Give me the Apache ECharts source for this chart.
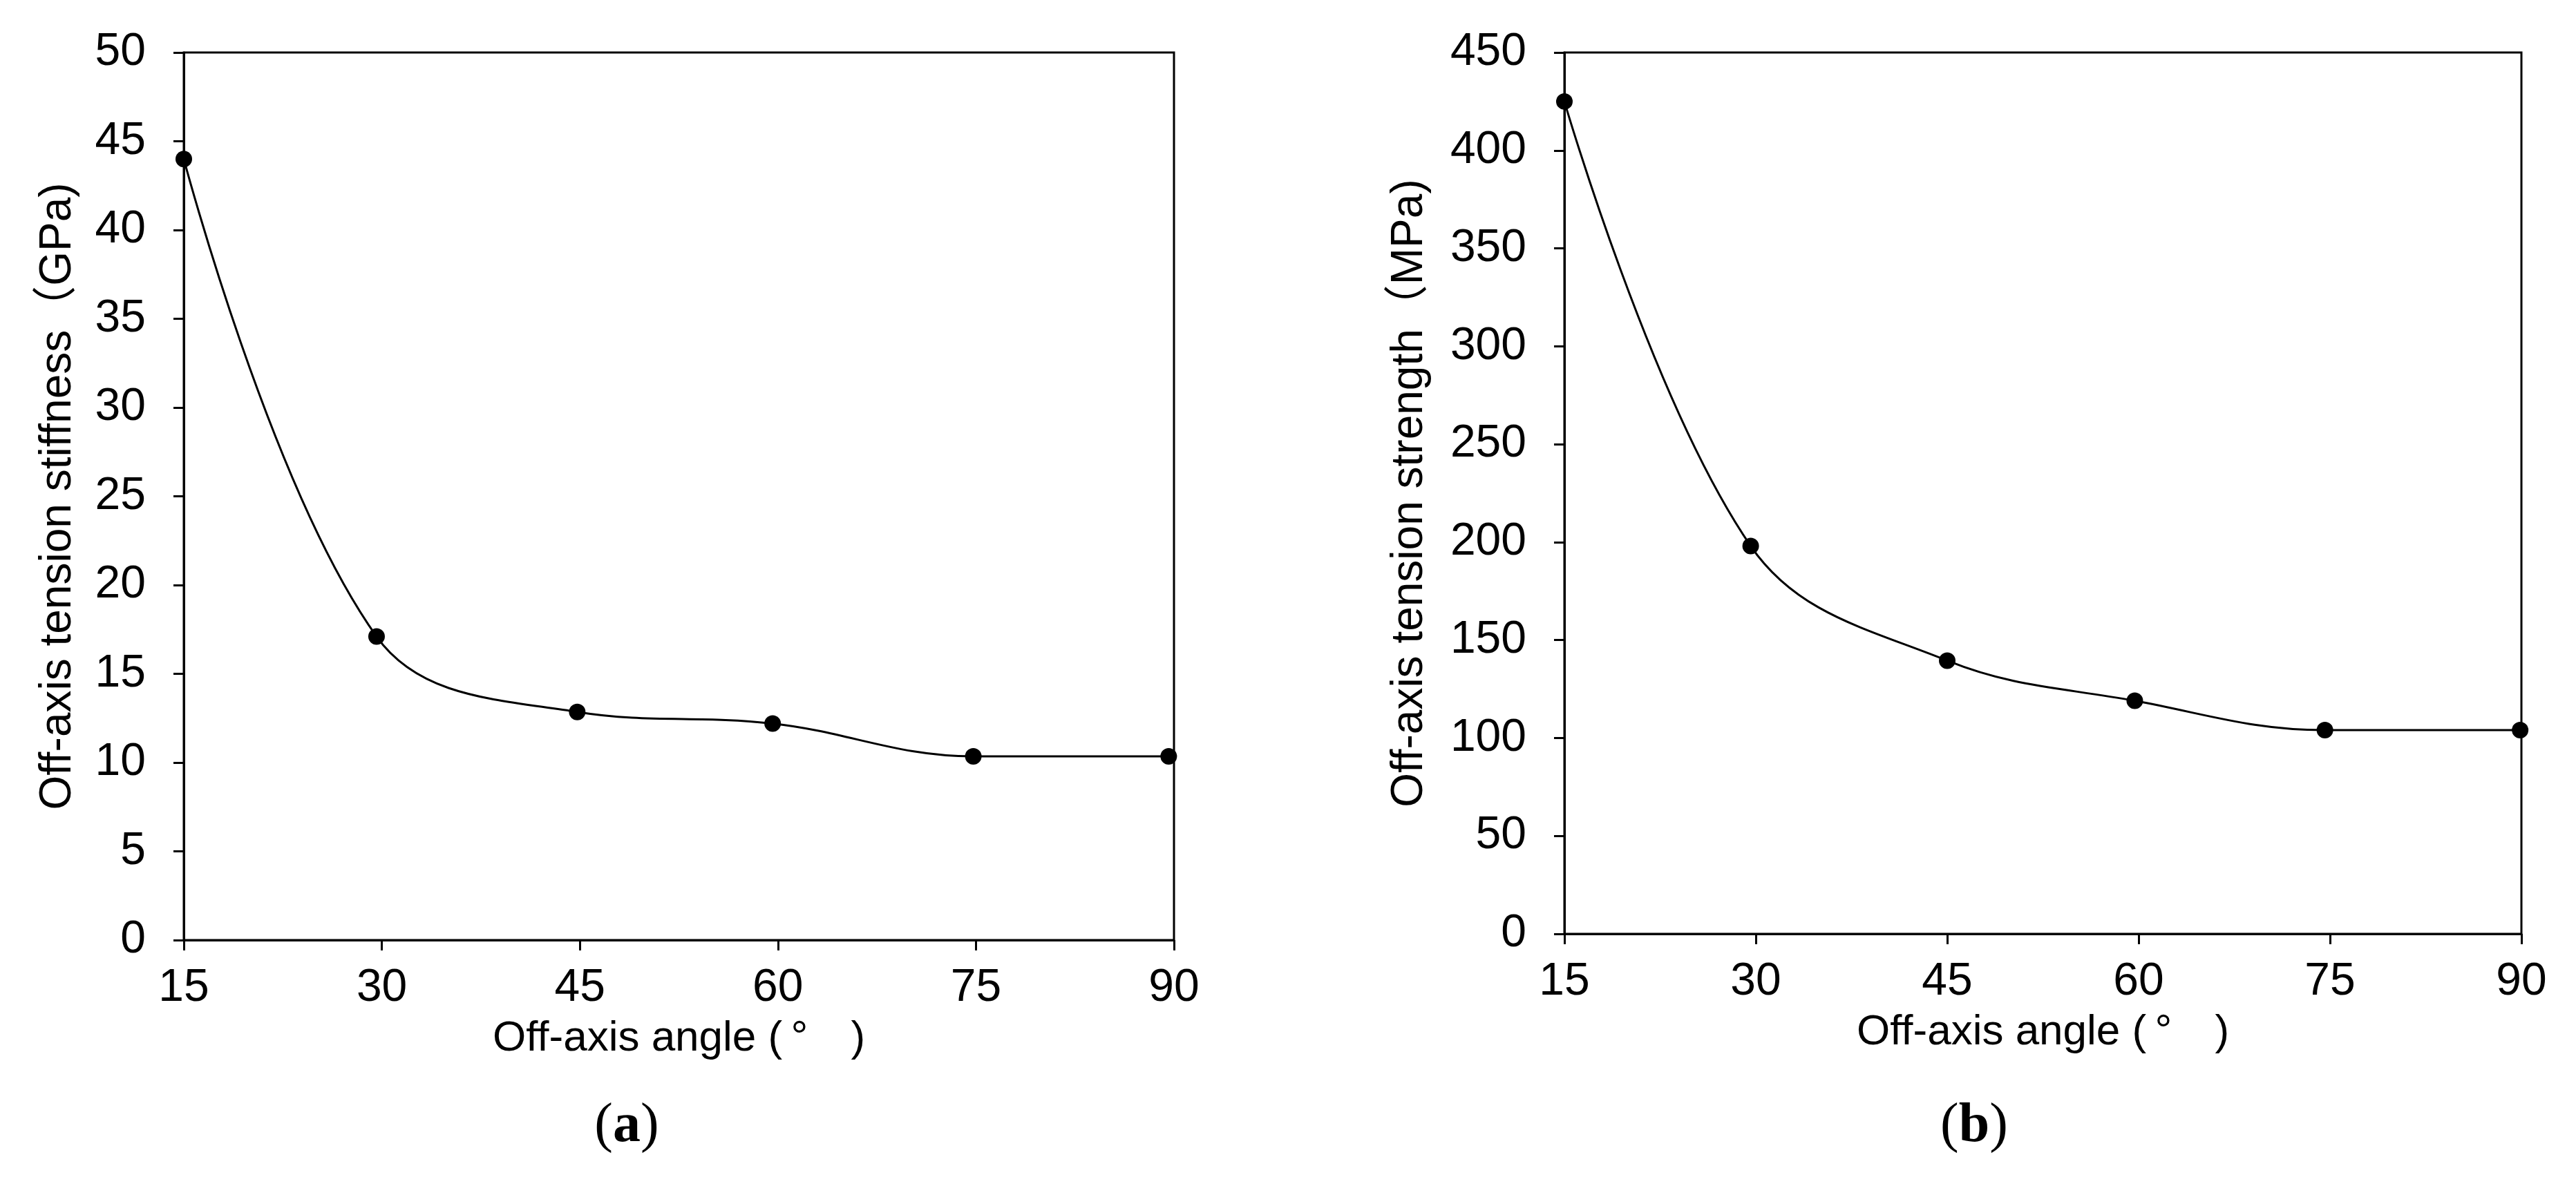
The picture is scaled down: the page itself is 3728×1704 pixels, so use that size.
<!DOCTYPE html>
<html>
<head>
<meta charset="utf-8">
<script src="https://cdn.jsdelivr.net/npm/echarts@6/dist/echarts.min.js"></script>
<style>
html,body{margin:0;padding:0;background:#fff;}
#c{width:3728px;height:1704px;}
</style>
</head>
<body>
<div id="c"></div>
<script>
// Panel (a): off-axis tension stiffness
const anglesA = [15, 29.6, 44.8, 59.6, 74.8, 89.6];
const stiffness = [44.0, 17.1, 12.85, 12.2, 10.35, 10.35];
// Panel (b): off-axis tension strength
const anglesB = [15, 29.6, 45.0, 59.7, 74.6, 89.9];
const strength = [425, 198, 139.5, 119, 104, 104];

const xTitle = 'Off-axis angle (\u2009°\u2003)';
const yTitleA = 'Off-axis tension stiffness\uFF08GPa)';
const yTitleB = 'Off-axis tension strength\uFF08MPa)';
const captionA = 'a';
const captionB = 'b';

const FONT = "'Liberation Sans', Arial, 'Noto Sans CJK SC', sans-serif";
const lineW = 3;

function xAxisCfg(gi) {
  return {
    type: 'value', gridIndex: gi, min: 15, max: 90, interval: 15,
    name: xTitle, nameLocation: 'middle', nameGap: 112,
    nameTextStyle: {fontSize: 62, color: '#000', fontFamily: FONT},
    axisLine: {show: true, onZero: false, lineStyle: {color: '#000', width: lineW}},
    axisTick: {show: true, inside: false, length: 15, lineStyle: {color: '#000', width: lineW}},
    axisLabel: {fontSize: 66, color: '#000', fontFamily: FONT, margin: 37},
    splitLine: {show: false}
  };
}
function yAxisCfg(gi, max, interval, name, gap) {
  return {
    type: 'value', gridIndex: gi, min: 0, max: max, interval: interval,
    name: name, nameLocation: 'middle', nameGap: gap,
    nameTextStyle: {fontSize: 64, color: '#000', fontFamily: FONT},
    axisLine: {show: true, lineStyle: {color: '#000', width: lineW}},
    axisTick: {show: true, inside: false, length: 15, lineStyle: {color: '#000', width: lineW}},
    axisLabel: {fontSize: 66, color: '#000', fontFamily: FONT, margin: 55},
    splitLine: {show: false}
  };
}
function seriesCfg(gi, xs, ys) {
  return {
    type: 'line', xAxisIndex: gi, yAxisIndex: gi,
    data: xs.map((x, i) => [x, ys[i]]),
    smooth: 0.38,
    symbol: 'circle', symbolSize: 24,
    itemStyle: {color: '#000'},
    lineStyle: {color: '#000', width: 3},
    animation: false
  };
}

const chart = echarts.init(document.getElementById('c'), null, {renderer: 'canvas'});
chart.setOption({
  backgroundColor: '#fff',
  animation: false,
  grid: [
    {left: 266, top: 76, width: 1433, height: 1285, show: true, borderColor: '#000', borderWidth: lineW, backgroundColor: 'transparent'},
    {left: 2264, top: 76, width: 1385, height: 1276, show: true, borderColor: '#000', borderWidth: lineW, backgroundColor: 'transparent'}
  ],
  xAxis: [xAxisCfg(0), xAxisCfg(1)],
  yAxis: [
    yAxisCfg(0, 50, 5, yTitleA, 150),
    yAxisCfg(1, 450, 50, yTitleB, 192)
  ],
  series: [seriesCfg(0, anglesA, stiffness), seriesCfg(1, anglesB, strength)],
  graphic: [
    {type: 'text', x: 907, y: 1631, style: {
      text: '{p|(}{b|' + captionA + '}{p|)}', align: 'center', verticalAlign: 'middle',
      rich: {p: {fontSize: 80, fontFamily: "'Liberation Serif', serif", fill: '#000'},
             b: {fontSize: 80, fontFamily: "'Liberation Serif', serif", fontWeight: 'bold', fill: '#000'}}
    }},
    {type: 'text', x: 2857, y: 1631, style: {
      text: '{p|(}{b|' + captionB + '}{p|)}', align: 'center', verticalAlign: 'middle',
      rich: {p: {fontSize: 80, fontFamily: "'Liberation Serif', serif", fill: '#000'},
             b: {fontSize: 80, fontFamily: "'Liberation Serif', serif", fontWeight: 'bold', fill: '#000'}}
    }}
  ]
});
</script>
</body>
</html>
